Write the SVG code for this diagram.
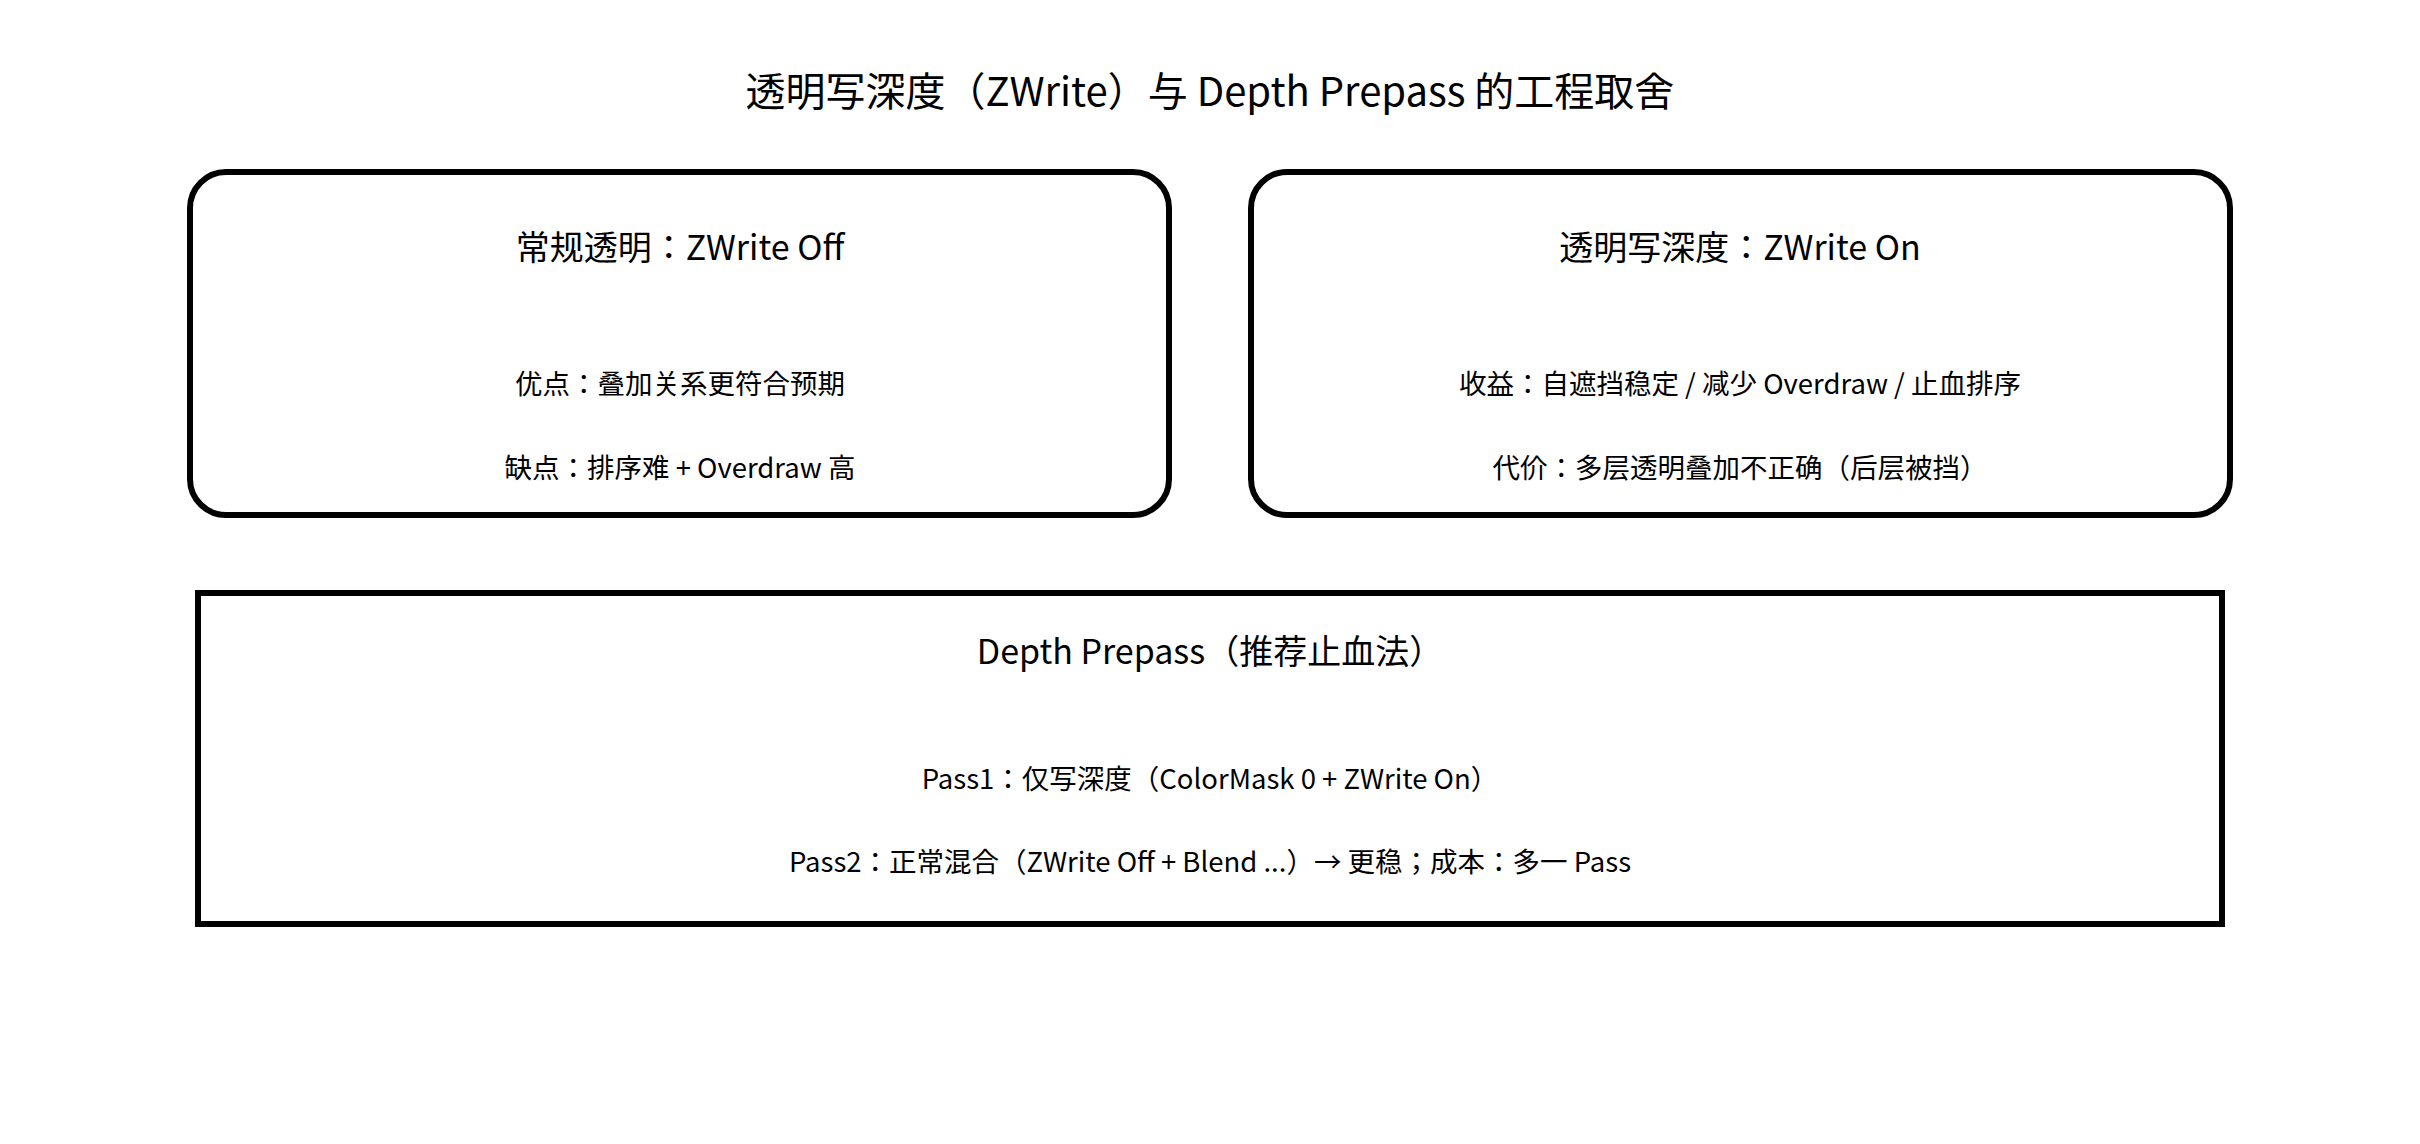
<svg xmlns="http://www.w3.org/2000/svg" width="2420" height="1144" viewBox="0 0 2420 1144">
<style>
text{font-family:"Noto Sans CJK JP","Noto Sans CJK SC","Noto Sans",sans-serif;fill:#000;text-anchor:middle;dominant-baseline:central}
.t{font-size:40px}
.h{font-size:34px}
.b{font-size:27.5px}
.box{fill:#fff;stroke:#000;stroke-width:6}
</style>
<rect width="2420" height="1144" fill="#fff"/>
<text class="t" x="1210" y="89">透明写深度（ZWrite）与 Depth Prepass 的工程取舍</text>
<g id="zwrite-off">
<rect class="box" x="190" y="172" width="979" height="343" rx="36"/>
<text class="h" x="680" y="245">常规透明：ZWrite Off</text>
<text class="b" x="680" y="382">优点：叠加关系更符合预期</text>
<text class="b" x="680" y="466">缺点：排序难 + Overdraw 高</text>
</g>
<g id="zwrite-on">
<rect class="box" x="1251" y="172" width="979" height="343" rx="36"/>
<text class="h" x="1740" y="245">透明写深度：ZWrite On</text>
<text class="b" x="1740" y="382">收益：自遮挡稳定 / 减少 Overdraw / 止血排序</text>
<text class="b" x="1740" y="466">代价：多层透明叠加不正确（后层被挡）</text>
</g>
<g id="depth-prepass">
<rect class="box" x="198" y="593" width="2024" height="331"/>
<text class="h" x="1210" y="649">Depth Prepass（推荐止血法）</text>
<text class="b" x="1210" y="777">Pass1：仅写深度（ColorMask 0 + ZWrite On）</text>
<text class="b" x="1210" y="860">Pass2：正常混合（ZWrite Off + Blend ...）→ 更稳；成本：多一 Pass</text>
</g>
<g id="connectors"></g>
</svg>
